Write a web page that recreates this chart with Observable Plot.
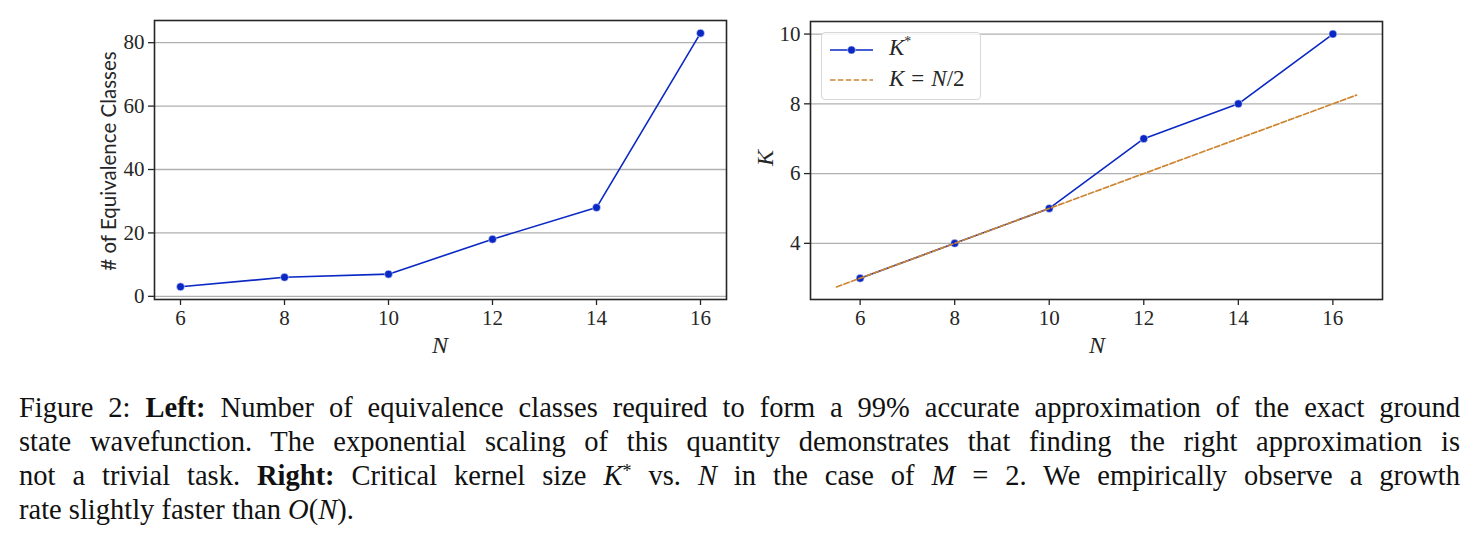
<!DOCTYPE html>
<html>
<head>
<meta charset="utf-8">
<script src="https://cdn.jsdelivr.net/npm/d3@7"></script>
<script src="https://cdn.jsdelivr.net/npm/@observablehq/plot@0.6"></script>
<style>
  html, body { margin: 0; padding: 0; background: #fff; }
  #wrap { position: relative; width: 1476px; height: 548px; overflow: hidden; }
  .plot { position: absolute; top: 0; }
  .lab { position: absolute; color: #262626; white-space: nowrap; }
  .it { font-family: "Liberation Serif", serif; font-style: italic; }
  #caption { position: absolute; left: 19px; top: 391px; width: 1441px;
    font-family: "Liberation Serif", serif; font-size: 28.5px; line-height: 34px; color: #111; }
  #caption div { text-align: justify; text-align-last: justify; white-space: nowrap; overflow: visible; }
  #caption div.j { white-space: normal; }
  #caption div.last { text-align-last: left; }
  #caption sup { line-height: 0; vertical-align: baseline; position: relative; top: -0.45em; font-size: 18px; }
  #legend { position: absolute; left: 821px; top: 32px; width: 158px; height: 66px;
    border: 1px solid #d8d8d8; border-radius: 4px; background: rgba(255,255,255,0.85); }
  .eq { display: inline-block; padding: 0 7px; font-style: normal; }
</style>
</head>
<body>
<div id="wrap">
  <div id="left" class="plot" style="left:0px"></div>
  <div id="right" class="plot" style="left:740px"></div>
  <div class="lab" style="left:108px; top:161px; transform: translate(-50%,-50%) rotate(-90deg); font-family: Lato, 'Open Sans', sans-serif; font-size: 20.5px;"># of Equivalence Classes</div>
  <div class="lab it" style="left:440px; top:345px; transform: translate(-50%,-50%); font-size: 24px;">N</div>
  <div class="lab it" style="left:765px; top:158px; transform: translate(-50%,-50%) rotate(-90deg); font-size: 24px;">K</div>
  <div class="lab it" style="left:1097px; top:345px; transform: translate(-50%,-50%); font-size: 24px;">N</div>
  <div id="legend">
    <svg width="158" height="66" style="position:absolute;left:0;top:0">
      <line x1="8" x2="51" y1="17" y2="17" stroke="#0a28c4" stroke-width="1.6"/>
      <circle cx="29.5" cy="17" r="4" fill="#0a28c4" stroke="#fff" stroke-width="0.5"/>
      <line x1="8" x2="51" y1="47" y2="47" stroke="#cc8530" stroke-width="1.7" stroke-dasharray="5.5,2.4"/>
    </svg>
    <div class="lab it" style="left:67px; top:2px; font-size:23px;">K<span style="font-size:14px; font-style:normal; position:relative; top:-9px;">*</span></div>
    <div class="lab" style="left:67px; top:33px; font-size:23px; font-family:'Liberation Serif',serif;"><span class="it">K</span><span class="eq">=</span><span class="it">N</span>/2</div>
  </div>
  <div id="caption">
    <div class="j">Figure 2: <b>Left:</b> Number of equivalence classes required to form a 99% accurate approximation of the exact ground</div>
    <div class="j">state wavefunction. The exponential scaling of this quantity demonstrates that finding the right approximation is</div>
    <div class="j">not a trivial task. <b>Right:</b> Critical kernel size <i>K</i><sup>*</sup> vs. <i>N</i> in the case of <i>M</i> = 2. We empirically observe a growth</div>
    <div class="last">rate slightly faster than <i>O</i>(<i>N</i>).</div>
  </div>
</div>
<script>
// ---- data ----
const N = [6, 8, 10, 12, 14, 16];
const eqClasses = [3, 6, 7, 18, 28, 83];
const kStar = [3, 4, 5, 7, 8, 10];
const halfLineN = [5.5, 16.5];
const xTicks = [6, 8, 10, 12, 14, 16];
const leftYTicks = [0, 20, 40, 60, 80];
const rightYTicks = [4, 6, 8, 10];

const blue = "#0a28c4";
const orange = "#cc8530";
const ink = "#262626";

const leftData = N.map((n, i) => ({ n, v: eqClasses[i] }));
const rightData = N.map((n, i) => ({ n, k: kStar[i] }));
const halfData = halfLineN.map(n => ({ n, k: n / 2 }));

const common = {
  style: { fontFamily: "Liberation Serif, serif", fontSize: "21px", color: ink, background: "transparent", overflow: "visible" }
};

function axes(yTicks) {
  return [
    Plot.gridY(yTicks, { stroke: "#b0b0b0", strokeOpacity: 1, strokeWidth: 1.3 }),
    Plot.axisX(xTicks, { tickSize: 6, tickPadding: 5, label: null, fontSize: 21, stroke: ink, strokeWidth: 1.3 }),
    Plot.axisY(yTicks, { tickSize: 6, tickPadding: 4, label: null, fontSize: 21, stroke: ink, strokeWidth: 1.3 }),
  ];
}

const left = Plot.plot({
  ...common,
  width: 740, height: 360,
  marginLeft: 154, marginRight: 14, marginTop: 20, marginBottom: 61,
  x: { domain: [5.5, 16.5] },
  y: { domain: [-1, 87] },
  marks: [
    ...axes(leftYTicks),
    Plot.line(leftData, { x: "n", y: "v", stroke: blue, strokeWidth: 1.6 }),
    Plot.dot(leftData, { x: "n", y: "v", r: 4, fill: blue, stroke: "#fff", strokeWidth: 0.5 }),
    Plot.frame({ stroke: ink, strokeWidth: 1.6 })
  ]
});
document.getElementById("left").appendChild(left);

const right = Plot.plot({
  ...common,
  width: 660, height: 360,
  marginLeft: 70, marginRight: 18, marginTop: 21, marginBottom: 61,
  x: { domain: [4.95, 17.05] },
  y: { domain: [2.39, 10.36] },
  marks: [
    ...axes(rightYTicks),
    Plot.line(rightData, { x: "n", y: "k", stroke: blue, strokeWidth: 1.6 }),
    Plot.dot(rightData, { x: "n", y: "k", r: 4, fill: blue, stroke: "#fff", strokeWidth: 0.5 }),
    Plot.line(halfData, { x: "n", y: "k", stroke: orange, strokeWidth: 1.7, strokeDasharray: "5.5,2.4" }),
    Plot.frame({ stroke: ink, strokeWidth: 1.6 })
  ]
});
document.getElementById("right").appendChild(right);
</script>
</body>
</html>
